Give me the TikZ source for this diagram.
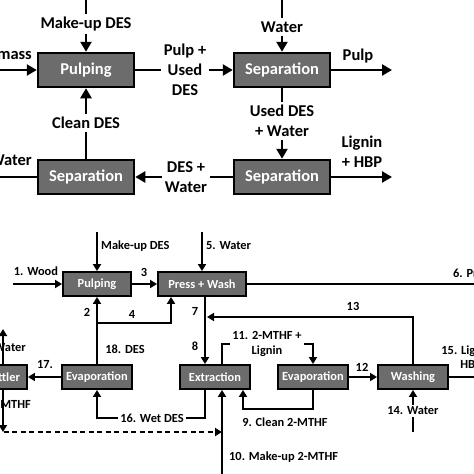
\documentclass[tikz,border=0pt]{standalone}
\usepackage{fontspec}
\setmainfont{Carlito}
\usetikzlibrary{arrows.meta,calc}
\definecolor{boxgray}{RGB}{108,108,108}
\newcommand\bigfont{\fontsize{16.5}{20}\selectfont\bfseries}
\newcommand\smallfont{\fontsize{12.4}{14.5}\selectfont\bfseries}
\tikzset{
	boxA/.style={draw=black, fill=boxgray, line width=2.5pt, text=white, font=\bigfont, minimum width=96pt, minimum height=34pt, inner sep=3pt},
	boxB/.style={draw=black, fill=boxgray, line width=1.9pt, text=white, font=\smallfont, minimum width=70pt, minimum height=24pt, inner sep=3pt},
	lblA/.style={font=\bigfont, inner sep=3pt, align=center},
	lblB/.style={font=\smallfont, inner sep=2pt, align=center},
	lnA/.style={line width=2.5pt},
	lnB/.style={line width=1.9pt},
	arrA/.style={line width=2.5pt, -{Triangle[length=10pt,width=11pt]}},
	arrB/.style={line width=1.9pt, -{Triangle[length=7pt,width=8pt]}}
}

\begin{document}
\begin{tikzpicture}[x=1pt,y=-1pt]
			%%%%% START %%%%%
			\useasboundingbox (0,0) rectangle (474,474);
			\clip (0,0) rectangle (474,474);
			
			%%%%% top scheme %%%%%
			\node[boxA] (pulpA) at (86,70) {Pulping};
			\node[boxA] (sepA) at (282,70) {Separation};
			\node[boxA] (sepB) at (282,177) {Separation};
			\node[boxA] (sepC) at (86,177) {Separation};
			
			\coordinate (mkdesTop) at (86,-5);
			\node[lblA] (mkdes) at (86,24) {Make-up DES};
			\draw[lnA] (mkdesTop) -- (mkdes);
			\draw[arrA] (mkdes) -- (pulpA);
			
			\coordinate (bioIn) at (-10,70);
			\node[lblA, anchor=east] (bio) at (35,54) {Biomass};
			\draw[arrA] (bioIn) -- (pulpA);
			
			\node[lblA] (pud) at (185,70) {Pulp +\\Used\\DES};
			\draw[lnA] (pulpA) -- (pud);
			\draw[arrA] (pud) -- (sepA);
			
			\coordinate (waterTop) at (282,-5);
			\node[lblA] (wA) at (282,27) {Water};
			\draw[lnA] (waterTop) -- (wA);
			\draw[arrA] (wA) -- (sepA);
			
			\coordinate (pulpOut) at (392,70);
			\node[lblA] (pulpL) at (358,56) {Pulp};
			\draw[arrA] (sepA) -- (pulpOut);
			
			\node[lblA] (udw) at (282,121) {Used DES\\+ Water};
			\draw[lnA] (sepA) -- (udw);
			\draw[arrA] (udw) -- (sepB);
			
			\coordinate (lhbOut) at (392,177);
			\node[lblA] (lhb) at (362,152) {Lignin\\+ HBP};
			\draw[arrA] (sepB) -- (lhbOut);
			
			\node[lblA] (dw) at (186,177) {DES +\\Water};
			\draw[lnA] (sepB) -- (dw);
			\draw[arrA] (dw) -- (sepC);
			
			\node[lblA] (cd) at (86,123) {Clean DES};
			\draw[lnA] (sepC) -- (cd);
			\draw[arrA] (cd) -- (pulpA);
			
			\coordinate (waterOut) at (-10,177);
			\node[lblA, anchor=east] (wC) at (35,160) {Water};
			\draw[arrA] (sepC) -- (waterOut);
			
			%%%%% bottom scheme %%%%%
			\node[boxB, minimum width=68pt] (pulpB) at (97,284) {Pulping};
			\node[boxB, minimum width=88pt] (press) at (202,284) {Press + Wash};
			\node[boxB] (evapL) at (97,377) {Evaporation};
			\node[boxB, minimum width=48pt] (settler) at (3,377) {Settler};
			\node[boxB] (extr) at (215,377) {Extraction};
			\node[boxB] (evapM) at (313,377) {Evaporation};
			\node[boxB] (wash) at (413,377) {Washing};
			
			\coordinate (c7) at (205,0);
			\coordinate (c11) at (222,0);
			\coordinate (c4) at (171,0);
			
			\coordinate (woodIn) at (13,284);
			\node[lblB] (l1) at (36,271) {1. Wood};
			\draw[arrB] (woodIn) -- (pulpB);
			
			\coordinate (mkB) at (97,232);
			\node[lblB, anchor=west] (mkdesB) at (99,246) {Make-up DES};
			\draw[arrB] (mkB) -- (pulpB);
			
			\coordinate (w5) at (202,232);
			\node[lblB, anchor=west] (l5) at (204,246) {5. Water};
			\draw[arrB] (w5) -- (press);
			
			\node[lblB] (l3) at (144,272) {3};
			\draw[arrB] (pulpB) -- (press);
			
			\coordinate (pressOut) at (480,284);
			\node[lblB, anchor=west] (l6) at (451,273) {6. Product};
			\draw[lnB] (press) -- (pressOut);
			
			\node[lblB] (l7) at (195,311) {7};
			\node[lblB] (l8) at (195,346) {8};
			\draw[arrB] (press.south -| c7) -- (extr.north -| c7);
			
			\coordinate (j13) at (207,317);
			\node[lblB] (l13) at (353,306) {13};
			\draw[arrB] (wash.north) |- (j13);
			
			\node[lblB] (l11) at (267,344) {11. 2-MTHF +\\Lignin};
			\draw[lnB] (extr.north -| c11) |- (l11.west);
			\draw[arrB] (l11.east) -| (evapM.north);
			
			\node[lblB] (l12) at (362,367) {12};
			\draw[arrB] (evapM) -- (wash);
			
			\coordinate (w14) at (413,432);
			\node[lblB] (l14) at (413,411) {14. Water};
			\draw[lnB] (w14) -- (l14);
			\draw[arrB] (l14) -- (wash);
			
			\coordinate (out15) at (480,377);
			\node[lblB] (l15) at (471,357) {15. Lignin +\\HBP};
			\draw[lnB] (wash) -- (out15);
			
			\coordinate (j9) at (243,409);
			\node[lblB] (l9) at (285,422) {9. Clean 2-MTHF};
			\draw[arrB] (evapM.south) |- (j9) -- (j9 |- extr.south);
			
			\coordinate (m10) at (222,480);
			\node[lblB, anchor=west] (l10) at (227,457) {10. Make-up 2-MTHF};
			\draw[arrB] (m10) -- (m10 |- extr.south);
			
			\coordinate (dashIn) at (-5,432);
			\draw[arrB, dash pattern=on 5pt off 3.5pt] (dashIn) -- (dashIn -| m10);
			
			\node[lblB, fill=white] (l16) at (152,418) {16. Wet DES};
			\draw[lnB] (extr.south -| c7) |- (l16.east);
			\draw[arrB] (l16.west) -| (evapL.south);
			
			\node[lblB] (l2) at (87,312) {2};
			\node[lblB] (l18) at (125,349) {18. DES};
			\draw[arrB] (evapL) -- (pulpB);
			
			\coordinate (j4) at (97,323);
			\node[lblB] (l4) at (132,314) {4};
			\draw[arrB] (j4) -| (press.south -| c4);
			
			\node[lblB] (l17) at (45,365) {17.};
			\draw[arrB] (evapL) -- (settler);
			
			\coordinate (waterUp) at (3,329);
			\node[lblB, anchor=east] (l19) at (28,348) {Water};
			\draw[arrB] (settler) -- (waterUp);
			
			\coordinate (mthfDown) at (3,432);
			\node[lblB, anchor=east] (l20) at (33,404) {2-MTHF};
			\draw[arrB] (settler) -- (mthfDown);
			
			%%%%% END %%%%%
\end{tikzpicture}
\end{document}
